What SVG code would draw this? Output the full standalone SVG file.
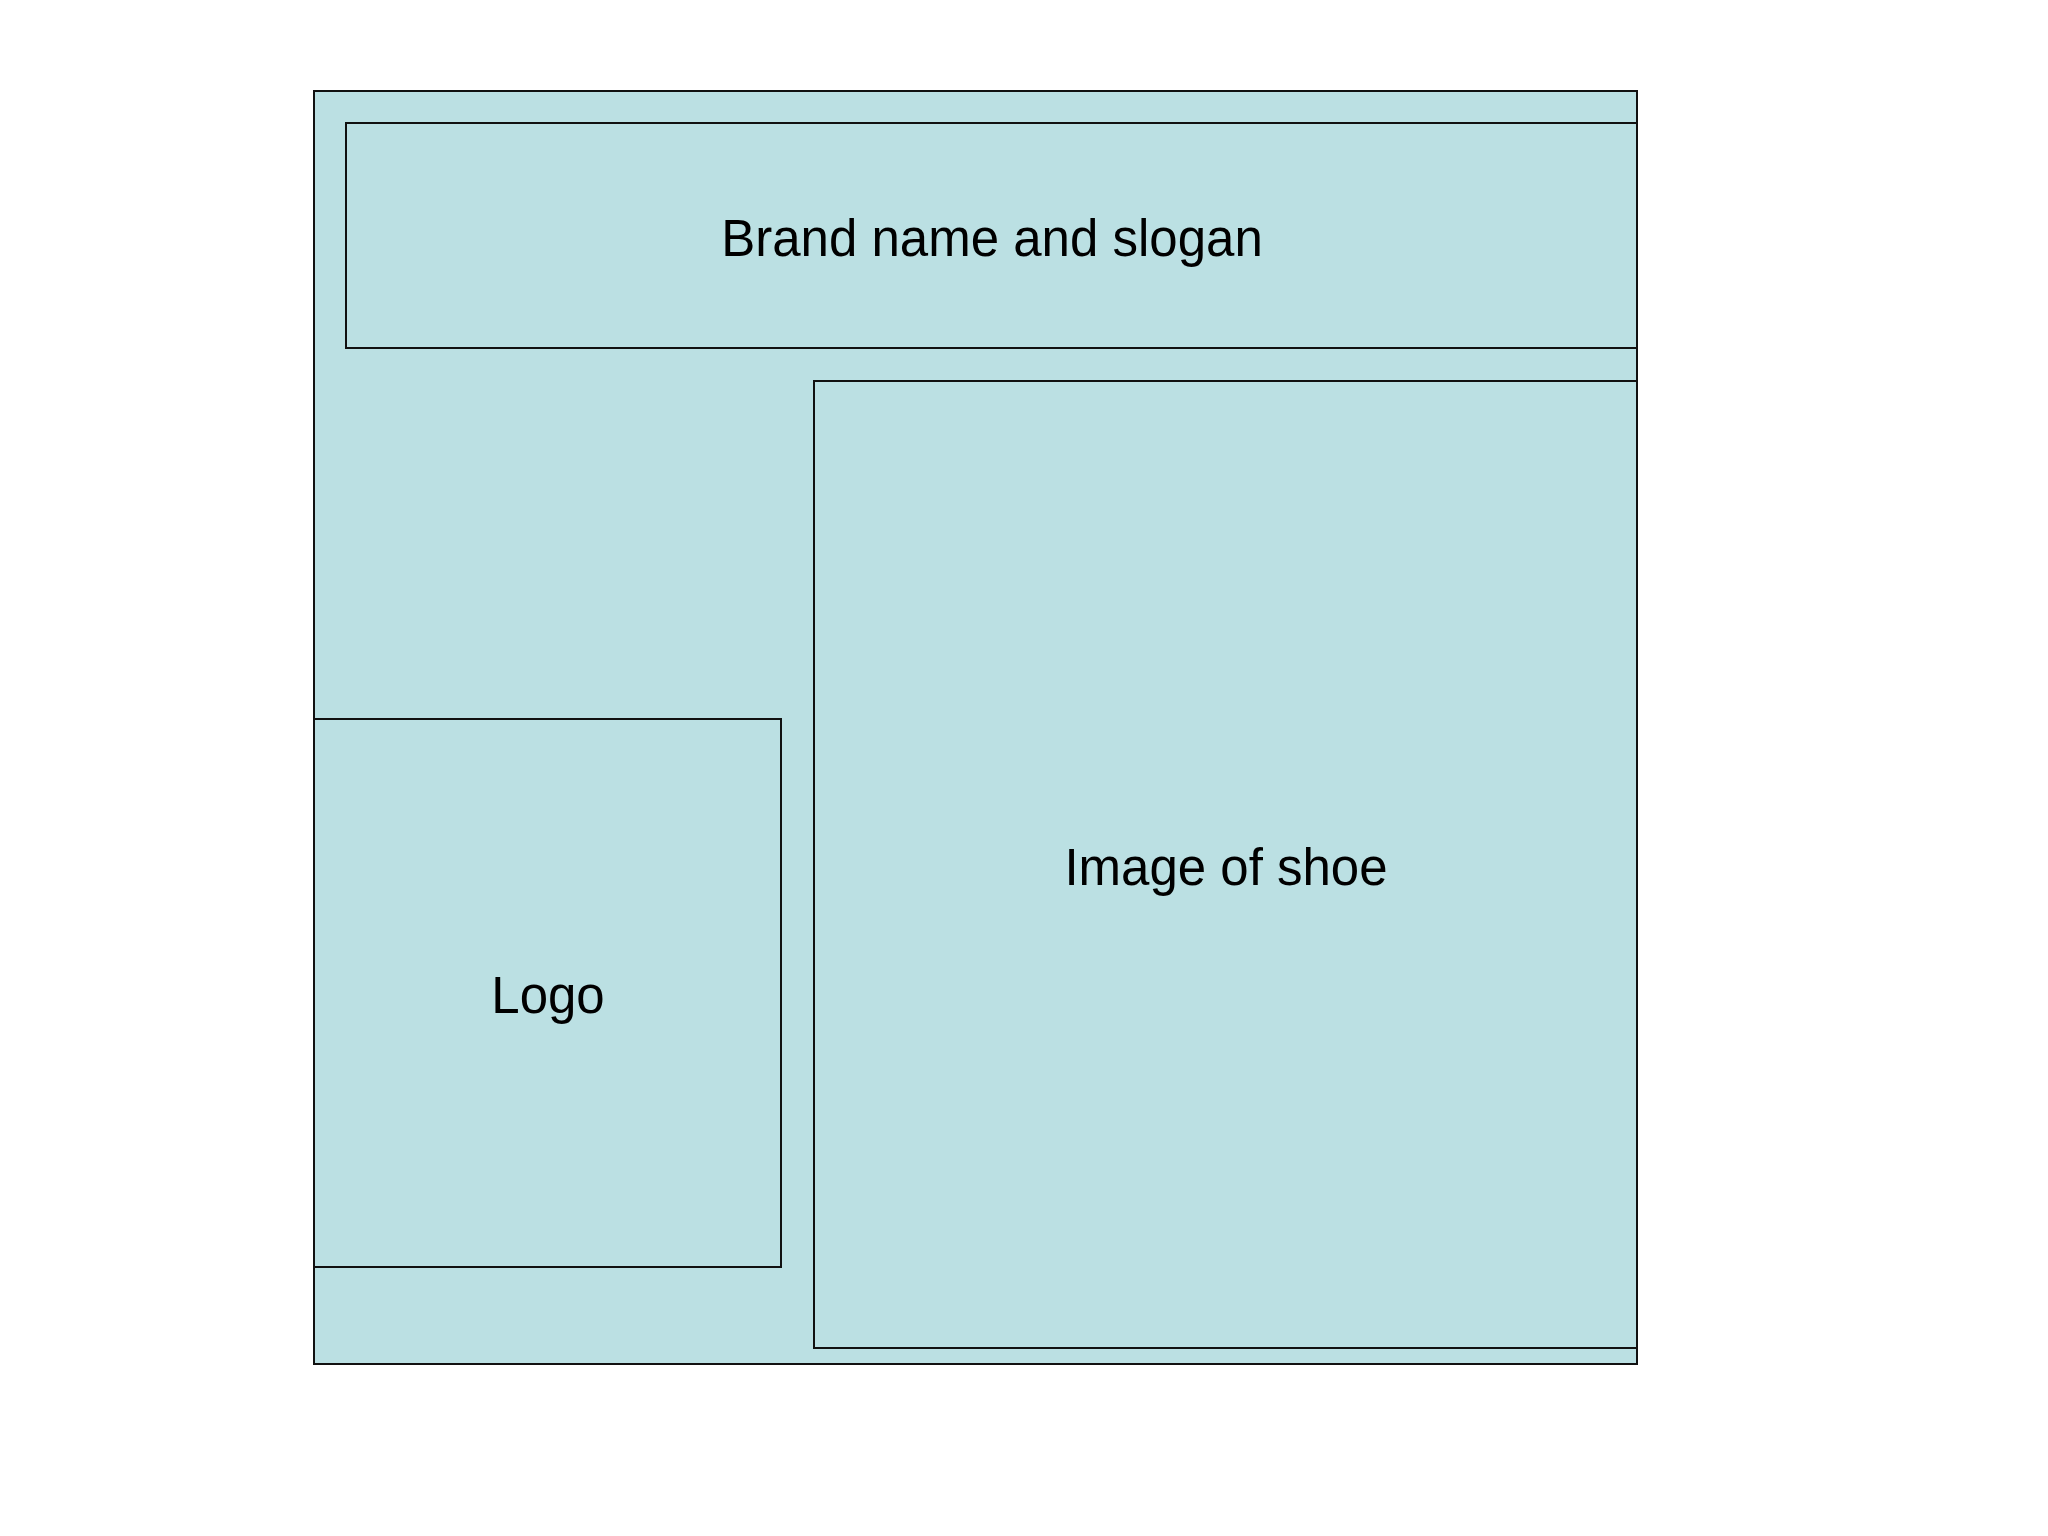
<svg xmlns="http://www.w3.org/2000/svg" width="2048" height="1536" viewBox="0 0 2048 1536">
<style>
.box{fill:#bbe0e3;stroke:#111;stroke-width:2}
.lbl{font-family:"Liberation Sans",Arial,sans-serif;font-size:51px;fill:#000;text-anchor:middle}
</style>
<rect width="2048" height="1536" fill="#fff"/>
<g id="page"><rect class="box" x="314" y="91" width="1323" height="1273"/></g>
<g id="brand"><rect class="box" x="346" y="123" width="1291" height="225"/><text class="lbl" x="992" y="256">Brand name and slogan</text></g>
<g id="image"><rect class="box" x="814" y="381" width="823" height="967"/><text class="lbl" x="1226" y="885">Image of shoe</text></g>
<g id="logo"><rect class="box" x="314" y="719" width="467" height="548"/><text class="lbl" x="548" y="1013">Logo</text></g>
<g id="connectors"/>
</svg>
